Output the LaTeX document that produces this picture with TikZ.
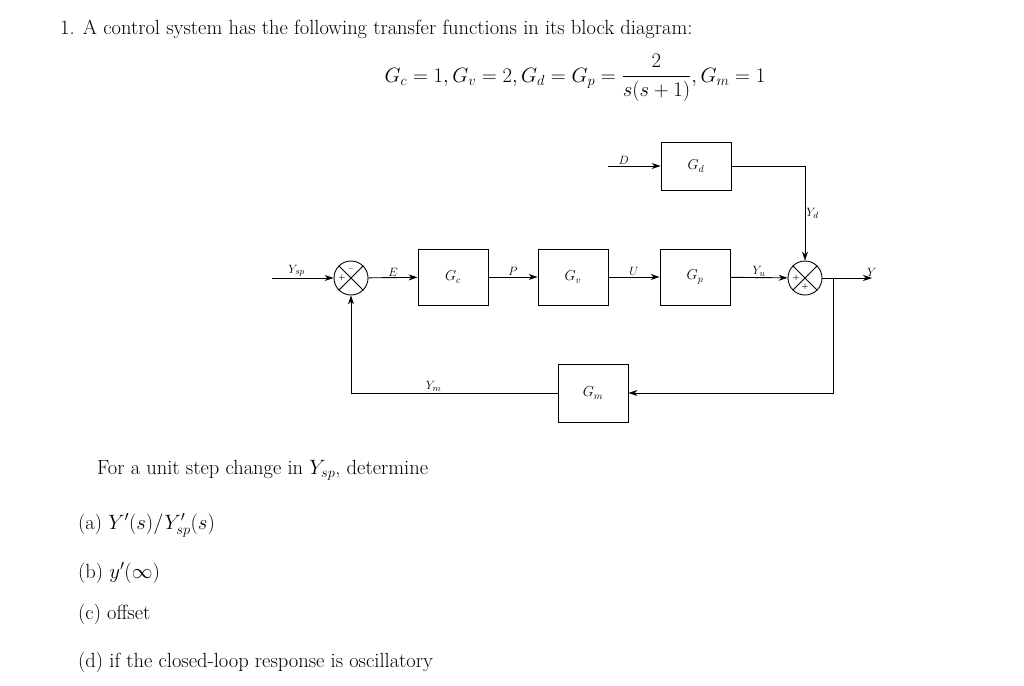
\documentclass[tikz,border=0pt]{standalone}
\usepackage{amsmath}
\usetikzlibrary{arrows.meta}
\begin{document}
\begin{tikzpicture}[x=1pt,y=-1pt,
  txt/.style={anchor=base west,inner sep=0pt,font=\fontsize{20.5}{24}\selectfont},
  blk/.style={draw,line width=0.9pt,minimum width=70pt,minimum height=56pt,inner sep=0pt,font=\fontsize{14}{16}\selectfont},
  sumj/.style={draw,circle,line width=0.9pt,minimum size=34pt,inner sep=0pt},
  lab/.style={inner sep=1pt,font=\fontsize{13}{15}\selectfont},
  sig/.style={line width=0.9pt,-{Stealth[length=9pt,width=6pt]}},
  ln/.style={line width=0.9pt}]
\useasboundingbox (0,0) rectangle (1024,685);
\node[txt] (t1) at (60,35) {1. A control system has the following transfer functions in its block diagram:};
\node[inner sep=0pt,font=\fontsize{20.5}{24}\selectfont] (eq) at (575,78) {$G_c=1, G_v=2, G_d=G_p=\dfrac{2}{s(s+1)}, G_m=1$};
% blocks
\node[sumj] (s1) at (351,278) {};
\node[blk] (gc) at (453,277) {$G_c$};
\node[blk] (gv) at (573,277) {$G_v$};
\node[blk] (gp) at (695,277) {$G_p$};
\node[sumj] (s2) at (805,278) {};
\node[blk,minimum height=48pt] (gd) at (696,166) {$G_d$};
\node[blk,minimum height=58pt] (gm) at (593,393) {$G_m$};
% summer crosses and signs
\draw[ln] (s1.north west) -- (s1.south east) (s1.north east) -- (s1.south west);
\draw[ln] (s2.north west) -- (s2.south east) (s2.north east) -- (s2.south west);
\node[inner sep=0pt,font=\scriptsize\bfseries] (p1) at ([xshift=-9pt]s1.center) {+};
\node[inner sep=0pt,font=\scriptsize\bfseries] (m1) at ([yshift=9pt]s1.center) {$-$};
\node[inner sep=0pt,font=\scriptsize\bfseries] (p2) at ([xshift=-9pt]s2.center) {+};
\node[inner sep=0pt,font=\scriptsize\bfseries] (p3) at ([yshift=-9pt]s2.center) {+};
% coordinates
\coordinate (in) at (272,278);
\coordinate (dd) at (608,166);
\coordinate (out) at (872,278);
\coordinate (br) at (833,278);
\coordinate (gdc) at (805,166);
% signals
\draw[sig] (in) -- node[lab,above,pos=0.4] (lysp) {$Y_{sp}$} (s1);
\draw[sig] (s1) -- node[lab,above] (le) {$E$} (gc);
\draw[sig] (gc) -- node[lab,above] (lp) {$P$} (gv);
\draw[sig] (gv) -- node[lab,above] (lu) {$U$} (gp);
\draw[sig] (gp) -- node[lab,above] (lyu) {$Y_u$} (s2);
\draw[sig] (s2) -- (out) node[lab,above left,xshift=6pt] (ly) {$Y$};
\draw[sig] (dd) -- node[lab,above,pos=0.3] (ld) {$D$} (gd);
\draw[sig] (gd) -| node[lab,right,pos=0.75] (lyd) {$Y_d$} (s2);
\draw[sig] (br) |- (gm);
\draw[sig] (gm) -| node[lab,above,pos=0.3] (lym) {$Y_m$} (s1);
% text
\node[txt] (t2) at (97,474) {For a unit step change in $Y_{sp}$, determine};
\node[txt] (ta) at (78,529) {(a) $Y'(s)/Y'_{sp}(s)$};
\node[txt] (tb) at (78,578) {(b) $y'(\infty)$};
\node[txt] (tc) at (78,619) {(c) offset};
\node[txt] (td) at (78,667) {(d) if the closed-loop response is oscillatory};
\end{tikzpicture}
\end{document}
